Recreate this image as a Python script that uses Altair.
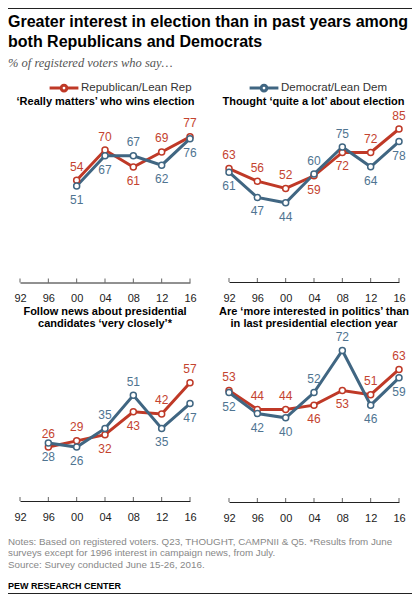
import altair as alt
import pandas as pd

# ---------------- data ----------------
YEARS = [1992, 1996, 2000, 2004, 2008, 2012, 2016]
PARTIES = ["Republican/Lean Rep", "Democrat/Lean Dem"]

matters_years = [2000, 2004, 2008, 2012, 2016]
matters_rep = [54, 70, 61, 69, 77]
matters_dem = [51, 67, 67, 62, 76]

thought_years = [1992, 1996, 2000, 2004, 2008, 2012, 2016]
thought_rep = [63, 56, 52, 59, 72, 72, 85]
thought_dem = [61, 47, 44, 60, 75, 64, 78]

news_years = [1996, 2000, 2004, 2008, 2012, 2016]
news_rep = [26, 29, 32, 43, 42, 57]
news_dem = [28, 26, 35, 51, 35, 47]

interest_years = [1992, 1996, 2000, 2004, 2008, 2012, 2016]
interest_rep = [53, 44, 44, 46, 53, 51, 63]
interest_dem = [52, 42, 40, 52, 72, 46, 59]

TITLE_1 = "Greater interest in election than in past years among"
TITLE_2 = "both Republicans and Democrats"
SUBTITLE = "% of registered voters who say\u2026"
PANEL_TITLES = [
    ["\u2018Really matters\u2019 who wins election"],
    ["Thought \u2018quite a lot\u2019 about election"],
    ["Follow news about presidential", "candidates \u2018very closely\u2019*"],
    ["Are \u2018more interested in politics\u2019 than", "in last presidential election year"],
]
NOTES = [
    "Notes: Based on registered voters. Q23, THOUGHT, CAMPNII & Q5. *Results from June",
    "surveys except for 1996 interest in campaign news, from July.",
    "Source: Survey conducted June 15-26, 2016.",
]
SOURCE = "PEW RESEARCH CENTER"

# ---------------- style ----------------
W, H = 404, 586
RED = "#bf3927"
BLUE = "#406682"
RED_TXT = "#c4432f"
BLUE_TXT = "#4f7491"
SANS = "Liberation Sans, Arial, sans-serif"
SERIF = "Liberation Serif, Georgia, serif"
AXIS_COLOR = "#222222"

LEG_PATH = ("M-1,0L-0.2,0M0.2,0L1,0"
            "M0.2,0A0.2,0.2,0,1,1,-0.2,0A0.2,0.2,0,1,1,0.2,0Z")
LEGEND = alt.Legend(
    orient="none", legendX=40, legendY=64, direction="horizontal", title=None,
    symbolType=LEG_PATH, symbolSize=830, symbolStrokeWidth=3,
    symbolFillColor="white", labelFont=SANS, labelFontSize=11.5,
    labelColor="#333333", labelOffset=1, columnPadding=51,
)
COLOR = alt.Color("party:N", scale=alt.Scale(domain=PARTIES, range=[RED, BLUE]),
                  legend=LEGEND)


def long_df(years, rep, dem, flip=()):
    rows = []
    for yr, r, d in zip(years, rep, dem):
        rep_top = r >= d
        if yr in flip:
            rep_top = not rep_top
        rows.append(dict(year=yr, party=PARTIES[0], value=r,
                         side="above" if rep_top else "below"))
        rows.append(dict(year=yr, party=PARTIES[1], value=d,
                         side="below" if rep_top else "above"))
    return pd.DataFrame(rows)


def panel(df, xr, y0, k):
    xs = alt.Scale(domain=[1992, 2016], range=xr, nice=False, zero=False)
    ys = alt.Scale(domain=[0, 100], range=[y0, y0 - 100 * k], nice=False, zero=False)
    xaxis = alt.Axis(
        orient="bottom", offset=y0 - H, values=YEARS,
        labelExpr="substring(toString(datum.value), 2, 4)",
        ticks=False, grid=False, title=None, domainColor=AXIS_COLOR,
        domainWidth=1, labelFont=SANS, labelFontSize=11, labelColor="#222222",
        labelPadding=10, labelFlush=False, labelOverlap=False,
    )
    X = alt.X("year:Q", scale=xs, axis=xaxis)
    Y = alt.Y("value:Q", scale=ys, axis=None)
    base = alt.Chart(df)
    layers = []
    for p in PARTIES:
        layers.append(base.transform_filter(alt.datum.party == p)
                      .mark_line(strokeWidth=3)
                      .encode(x=X, y=Y, color=COLOR))
    for p in PARTIES:
        layers.append(base.transform_filter(alt.datum.party == p)
                      .mark_point(shape="circle", filled=False, fill="white",
                                  fillOpacity=1, opacity=1, size=36, strokeWidth=1.5)
                      .encode(x=X, y=Y, color=COLOR))
    tc = alt.Color("tc:N", scale=None)
    lab = base.transform_calculate(
        tc=f"datum.party == '{PARTIES[0]}' ? '{RED_TXT}' : '{BLUE_TXT}'")
    layers.append(lab.transform_filter(alt.datum.side == "above")
                  .mark_text(font=SANS, fontSize=12, dy=-13.5, baseline="middle")
                  .encode(x=X, y=Y, text="value:Q", color=tc))
    layers.append(lab.transform_filter(alt.datum.side == "below")
                  .mark_text(font=SANS, fontSize=12, dy=14, baseline="middle")
                  .encode(x=X, y=Y, text="value:Q", color=tc))
    ticks = alt.Chart(pd.DataFrame({"year": YEARS, "value": [0] * len(YEARS)}))
    layers.append(ticks.mark_tick(orient="vertical", size=4, thickness=1,
                                  color=AXIS_COLOR, yOffset=-2)
                  .encode(x=X, y=Y))
    return alt.layer(*layers)


def txt(text, x, y, **kw):
    return (alt.Chart(pd.DataFrame({"t": [text]}))
            .mark_text(**kw)
            .encode(x=alt.value(x), y=alt.value(y), text="t:N"))


p1 = panel(long_df(matters_years, matters_rep, matters_dem), [12, 182], 274.5, 1.892)
p2 = panel(long_df(thought_years, thought_rep, thought_dem), [221, 391], 274, 1.80)
p3 = panel(long_df(news_years, news_rep, news_dem, flip=(1996,)), [12, 182], 493, 2.074)
p4 = panel(long_df(interest_years, interest_rep, interest_dem), [221, 391], 494, 2.105)

texts = [
    alt.Chart(pd.DataFrame({"a": [0]})).mark_rule(color="#222222", strokeWidth=1)
    .encode(x=alt.value(0), x2=alt.value(W), y=alt.value(0.5)),
    txt(TITLE_1, 0, 18.5, font=SANS, fontSize=16, fontWeight="bold", align="left",
        baseline="alphabetic", color="#000000"),
    txt(TITLE_2, 0, 38.5, font=SANS, fontSize=16, fontWeight="bold", align="left",
        baseline="alphabetic", color="#000000"),
    txt(SUBTITLE, 0, 59, font=SERIF, fontSize=12.5, fontStyle="italic", align="left",
        baseline="alphabetic", color="#555555"),
]
title_pos = [(97.5, [93.5]), (305.5, [93.5]), (97, [303.7, 316]), (306, [303.7, 316])]
for lines, (cx, ys_) in zip(PANEL_TITLES, title_pos):
    for line, yy in zip(lines, ys_):
        texts.append(txt(line, cx, yy, font=SANS, fontSize=11, fontWeight="bold",
                         align="center", baseline="middle", color="#000000"))
for line, yy in zip(NOTES, [533.5, 545, 556.5]):
    texts.append(txt(line, 0, yy, font=SANS, fontSize=9.8, align="left",
                     baseline="middle", color="#888888"))
texts.append(txt(SOURCE, 0, 578, font=SANS, fontSize=9, fontWeight="bold",
                 align="left", baseline="middle", color="#000000"))
texts.append(alt.Chart(pd.DataFrame({"a": [0]})).mark_rule(color="#222222", strokeWidth=1)
             .encode(x=alt.value(0), x2=alt.value(W), y=alt.value(H - 0.5)))

chart = (
    alt.layer(p1, p2, p3, p4, *texts)
    .resolve_scale(x="independent", y="independent")
    .properties(width=W, height=H, padding=0,
                autosize=alt.AutoSizeParams(type="none"))
    .configure_view(stroke=None)
)

chart.save("out.html", embed_options={"renderer": "svg", "actions": False})
